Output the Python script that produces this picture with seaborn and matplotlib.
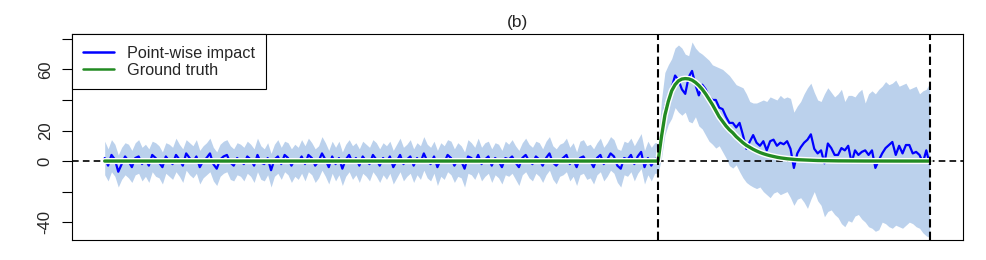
import numpy as np
import pandas as pd
import matplotlib
matplotlib.use("Agg")
import matplotlib.pyplot as plt
import seaborn as sns
from matplotlib.lines import Line2D

# ---------------- data ----------------
title = "(b)"
legend_labels = ["Point-wise impact", "Ground truth"]
ytick_values = [-40, -20, 0, 20, 40, 60, 80]
ytick_labels = ["-40", "", "0", "20", "", "60", ""]

# pre-intervention period (163 points)
est_pre = [2, -3, 4, 1, -7, -2, 3, 0, -4, 2, 3, -2, 1, -3, 4, 2, -1, -4, 3, 0,
           -2, 4, 1, -3, 5, 2, -1, 3, -4, 0, 2, 5, -2, -5, 1, 3, 4, -1, -3, 2,
           0, -2, 3, 1, -3, 4, -1, -2, 2, -6, 1, 3, -2, 4, 2, -3, 1, -1, 3, -2,
           4, 2, -3, 0, 5, 1, -4, 3, -2, 2, -5, 1, 4, -1, 2, -3, 3, 0, -2, 4,
           1, -3, 2, -1, 3, -4, 0, 4, -2, 1, 3, -3, 2, -1, 5, 0, -2, 3, -4, 1,
           -1, 4, 2, -3, 1, 0, -5, 3, 2, -1, 4, -2, 1, 3, -3, 2, 0, -4, 2, 1,
           3, -1, -4, 2, 4, 0, -2, 3, 1, -3, 2, 5, -1, -3, 0, 2, 4, -2, 1, -4,
           2, 3, -1, 0, -4, 2, 4, -2, 1, 5, 3, -3, -5, 2, 1, 4, -2, 3, 6, -4,
           2, -3, 1]
upper_pre = [13, 8, 14, 11, 4, 9, 12, 11, 7, 12, 14, 9, 11, 8, 13, 12, 10, 6, 12, 11,
             9, 15, 11, 8, 14, 12, 10, 14, 7, 10, 12, 15, 9, 6, 11, 13, 14, 10, 8, 12,
             11, 9, 13, 11, 8, 15, 10, 8, 12, 5, 11, 14, 9, 13, 12, 8, 11, 9, 14, 10,
             15, 12, 8, 10, 16, 12, 7, 13, 9, 13, 6, 11, 14, 10, 12, 8, 13, 11, 9, 14,
             12, 8, 12, 10, 13, 7, 11, 15, 9, 11, 14, 8, 12, 10, 16, 11, 9, 13, 7, 12,
             10, 14, 13, 8, 12, 10, 6, 14, 12, 9, 15, 9, 12, 13, 8, 12, 11, 7, 13, 11,
             14, 10, 7, 12, 15, 11, 9, 13, 12, 8, 13, 16, 10, 8, 11, 12, 15, 9, 12, 6,
             13, 14, 10, 11, 8, 12, 15, 9, 12, 16, 14, 8, 7, 13, 12, 15, 10, 14, 18, 7,
             13, 9, 12]
lower_pre = [-9, -13, -7, -10, -17, -12, -9, -11, -14, -9, -8, -13, -10, -14, -7, -10, -11, -15, -8, -10,
             -12, -7, -10, -14, -6, -9, -11, -8, -15, -11, -9, -7, -13, -16, -10, -8, -7, -12, -13, -9,
             -10, -13, -8, -10, -14, -7, -12, -13, -9, -17, -10, -8, -12, -7, -9, -14, -10, -12, -8, -13,
             -7, -9, -14, -11, -6, -10, -15, -8, -13, -9, -16, -10, -7, -12, -9, -14, -8, -10, -13, -7,
             -10, -14, -9, -12, -8, -15, -11, -7, -13, -10, -8, -14, -9, -12, -6, -11, -13, -8, -16, -10,
             -12, -7, -9, -14, -10, -11, -17, -8, -9, -12, -7, -13, -10, -8, -14, -9, -11, -15, -9, -10,
             -8, -12, -16, -9, -7, -11, -13, -8, -10, -14, -9, -6, -12, -15, -10, -9, -7, -13, -10, -16,
             -9, -8, -12, -11, -15, -9, -7, -13, -10, -6, -8, -14, -17, -9, -10, -7, -13, -8, -5, -15,
             -9, -13, -8]
truth_pre = [0] * 163

# post-intervention period (81 points)
est_post = [3, 20, 35, 42, 48, 56, 53, 47, 44, 55, 59, 50, 43, 50, 47, 42, 40, 40, 35, 34,
            29, 25, 25, 22, 25, 17, 8, 12.7, 17, 12, 10, 13, 7, 13, 14, 10, 12, 11, 13, 8,
            -4.5, 5, 9, 12, 14, 17.5, 8, 5, 7, -1.5, 11.5, 8.5, 4, 4, 8.5, 7, 10, -1, 7, 4,
            6, 7, 4, 7, -4.5, 0.5, 5, 8.5, 10.5, 12.5, 4, 10, 5, 10.5, 10.5, 5, 6, 4, -1, 7,
            -2]
upper_post = [12, 40, 58, 63, 67, 74, 76, 74, 70, 69, 78, 74, 71.5, 70, 68, 66, 63, 62, 61, 60,
              58, 56, 53, 50, 49, 48, 44, 39, 38, 38, 39, 40, 39, 42, 41, 40, 43, 41, 42, 41,
              32, 36, 39, 44, 48, 51, 45, 40, 39, 44, 48, 45, 42, 44, 47, 39, 43, 43, 42, 45,
              47, 38, 44, 46, 44, 47, 49, 52, 50, 51, 53, 49, 50, 51, 47, 48, 49, 44, 46, 47,
              51]
lower_post = [-8, 2, 17, 24, 28, 35, 32, 30, 32, 26, 25, 29, 23, 21, 17, 13, 11, 8.5, 10, 6,
              2, -3, -4.6, -2.5, -7, -11, -14, -15.7, -17, -18, -17, -20, -22, -24, -21, -20, -22, -21, -20, -24,
              -29, -25, -24, -27, -31, -25, -20, -26, -29, -36.5, -33, -32, -35, -37, -41, -43, -39, -40, -36, -35,
              -38, -40, -43, -44, -46, -45, -40, -41, -43, -44, -42, -43, -44, -42, -40, -41, -43, -44, -47, -49,
              -50]
truth_post = [0, 16, 30, 39, 46, 50, 52.5, 53.7, 54, 53.8, 53, 51.5, 49.5, 47, 44, 40.5, 37, 33, 29, 26,
              23, 20.5, 18.5, 16, 14, 12, 10.3, 9, 7.7, 6.6, 5.6, 4.8, 4.1, 3.5, 3.0, 2.5, 2.1, 1.8, 1.5, 1.3,
              1.1, 0.9, 0.8, 0.7, 0.6, 0.5, 0.4, 0.35, 0.3, 0.25, 0.2, 0.17, 0.14, 0.12, 0.1, 0.08, 0.07, 0.06, 0.05, 0.04,
              0.03, 0.03, 0.02, 0.02, 0.02, 0.01, 0.01, 0.01, 0, 0, 0, 0, 0, 0, 0, 0, 0, 0, 0, 0,
              0]

# ---------------- assemble ----------------
est = est_pre + est_post
upper = upper_pre + upper_post
lower = lower_pre + lower_post
truth = truth_pre + truth_post
n = len(est)
t = np.arange(n)
intervention = len(est_pre)
df = pd.DataFrame({"t": t, "est": est, "upper": upper, "lower": lower, "truth": truth})

sns.set_style("white")
plt.rcParams["font.family"] = ["Liberation Sans", "DejaVu Sans"]

W, H = 987, 260
fig = plt.figure(figsize=(W / 100, H / 100), dpi=100)
L, R, T, B = 71.7, 962.7, 34.3, 240.0
ax = fig.add_axes([L / W, 1 - B / H, (R - L) / W, (B - T) / H])

band_color = "#BBD1EC"
ax.fill_between(df["t"], df["lower"], df["upper"], color=band_color, lw=0, zorder=1)
ax.axhline(0, color="black", lw=1.2, dashes=(4, 2.5), zorder=2)
sns.lineplot(data=df, x="t", y="est", ax=ax, color="#0000FF", lw=1.6, zorder=3)
sns.lineplot(data=df, x="t", y="truth", ax=ax, color="white", lw=4.4, zorder=4)
sns.lineplot(data=df, x="t", y="truth", ax=ax, color="#228B22", lw=2.4, zorder=5)
for xv in [intervention, n - 1]:
    ax.axvline(xv, color="black", lw=1.5, dashes=(4, 2), zorder=6)

pad = 0.04 * (n - 1)
ax.set_xlim(-pad, n - 1 + pad)
ax.set_ylim(-51.7, 83.0)
ax.set_xticks([])
ax.set_yticks(ytick_values)
ax.set_yticklabels(ytick_labels, rotation=90, va="center", fontsize=12)
ax.tick_params(axis="y", which="both", left=True, direction="out", length=7.2, width=0.8,
               color="black", pad=6.5)
ax.set_xlabel("")
ax.set_ylabel("")
for s in ax.spines.values():
    s.set_visible(True)
    s.set_color("black")
    s.set_linewidth(0.8)

ax.set_title(title, fontsize=12.5, pad=5)

handles = [Line2D([0], [0], color="#0000FF", lw=1.8),
           Line2D([0], [0], color="#228B22", lw=1.8)]
leg = ax.legend(handles, legend_labels, loc="upper left", fontsize=11.7, frameon=True,
                fancybox=False, framealpha=1, edgecolor="black", borderaxespad=0,
                handlelength=1.9, handletextpad=0.8, borderpad=0.7, labelspacing=0.12)
leg.get_frame().set_linewidth(0.8)
leg.set_zorder(10)

fig.savefig("out.png", dpi=100)
